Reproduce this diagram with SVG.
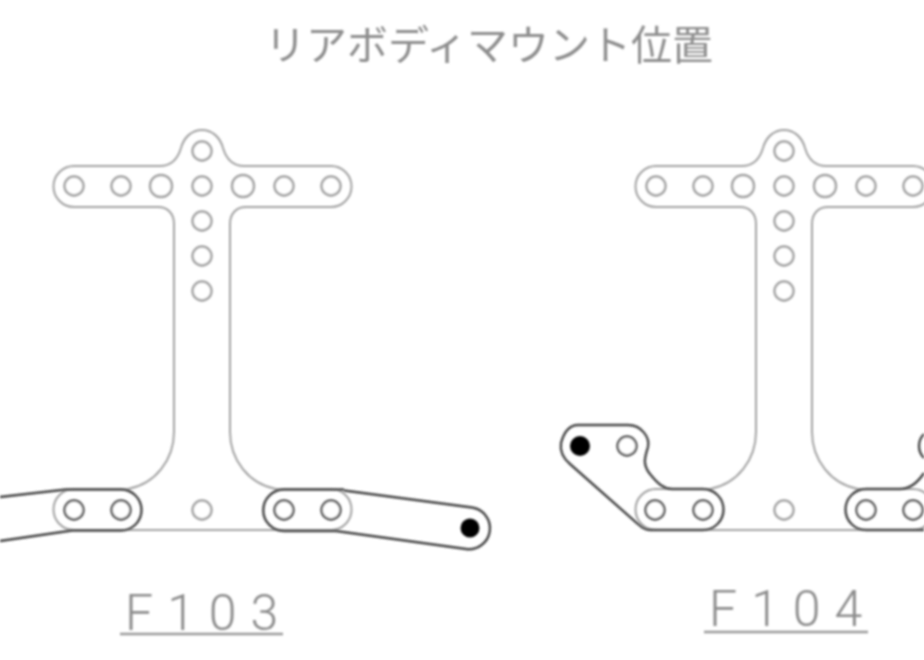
<svg xmlns="http://www.w3.org/2000/svg" width="924" height="660" viewBox="0 0 924 660">
<style>
.plate{fill:none;stroke:#a2a2a2;stroke-width:2}
.hole{fill:#fff;stroke:#a0a0a0;stroke-width:2.400}
.arm{fill:none;stroke:#444;stroke-width:2.400}
.darkhole{fill:#fff;stroke:#555;stroke-width:2.400}
.pin{fill:#000}
.label{font-family:Roboto,"Liberation Sans",sans-serif;font-weight:300;font-size:50px;fill:#8c8c8c}
.title{font-family:"Noto Sans CJK JP",sans-serif;font-weight:400;font-size:40.500px;fill:#8e8e8e}
.rule{stroke:#999;stroke-width:2.600}
</style>
<defs>
<filter id="soft" x="-5%" y="-5%" width="110%" height="110%"><feGaussianBlur stdDeviation="0.8"/></filter>
<g id="plate">
<path class="plate" d="M74 166H160C172 166 178 158 181 148C184 137 192 130 202 130C212 130 220 137 223 148C226 158 232 166 244 166H331A20.500 20.500 0 0 1 331 207H246C236 207 230 214 230 224V432C230 460 249 484 276 489H331A20.500 20.500 0 0 1 331 530H74A20.500 20.500 0 0 1 74 489H128C155 484 174 460 174 432V224C174 214 168 207 158 207H74A20.500 20.500 0 0 1 74 166Z"/>
<g class="hole">
<circle cx="74" cy="186" r="9.500"/><circle cx="121" cy="186" r="9.500"/><circle cx="161" cy="186" r="11"/><circle cx="202" cy="186" r="9.500"/><circle cx="243" cy="186" r="11"/><circle cx="284" cy="186" r="9.500"/><circle cx="331" cy="186" r="9.500"/>
<circle cx="202" cy="151" r="9.500"/><circle cx="202" cy="221" r="9.500"/><circle cx="202" cy="256" r="9.500"/><circle cx="202" cy="291" r="9.500"/><circle cx="202" cy="510" r="9.500"/>
</g>
</g>
</defs>
<rect width="924" height="660" fill="#fff"/>
<g filter="url(#soft)">
<g id="title"><text class="title" x="265" y="60" textLength="448" lengthAdjust="spacingAndGlyphs">リアボディマウント位置</text></g>
<g id="f103">
<use href="#plate"/>
<g class="darkhole"><circle cx="74" cy="510" r="9.500"/><circle cx="121" cy="510" r="9.500"/><circle cx="284" cy="510" r="9.500"/><circle cx="331" cy="510" r="9.500"/></g>
<circle class="pin" cx="470" cy="528" r="9.500"/>
<text class="label" x="125" y="630" letter-spacing="14">F103</text>
<line class="rule" x1="120" y1="634" x2="283" y2="634"/>
</g>
<g id="f104">
<use href="#plate" x="582"/>
<g class="darkhole"><circle cx="655" cy="510" r="9.500"/><circle cx="703" cy="510" r="9.500"/><circle cx="866" cy="510" r="9.500"/><circle cx="913" cy="510" r="9.500"/><circle cx="627" cy="446" r="9.500"/></g>
<circle class="pin" cx="580" cy="446" r="10"/>
<text class="label" x="709" y="626" letter-spacing="14">F104</text>
<line class="rule" x1="704" y1="632" x2="868" y2="632"/>
</g>
<g id="connectors">
<path class="arm" d="M0 497L66 489.500H121A20.500 20.500 0 0 1 121 530.500H72L0 541"/>
<path class="arm" d="M344 490.500L472 507.500A20.700 20.700 0 0 1 466 549L336 531H284A20.500 20.500 0 0 1 284 489.500H344"/>
<path class="arm" d="M578 425H628C642 425 650 438 648 447C645 457 642 464 650 474C658 484 664 489 672 489H703A20.500 20.500 0 0 1 703 530H650C645 530 642 528 638 524L570 464C563 458 560 450 561 443C564 432 570 425 578 425Z"/>
<path class="arm" d="M924 530H866A20.500 20.500 0 0 1 866 489H900C910 489 918 482 924 473M924 434C920 438 919 442 919 446C919 451 921 455 924 458"/>
</g>
</g>
</svg>
